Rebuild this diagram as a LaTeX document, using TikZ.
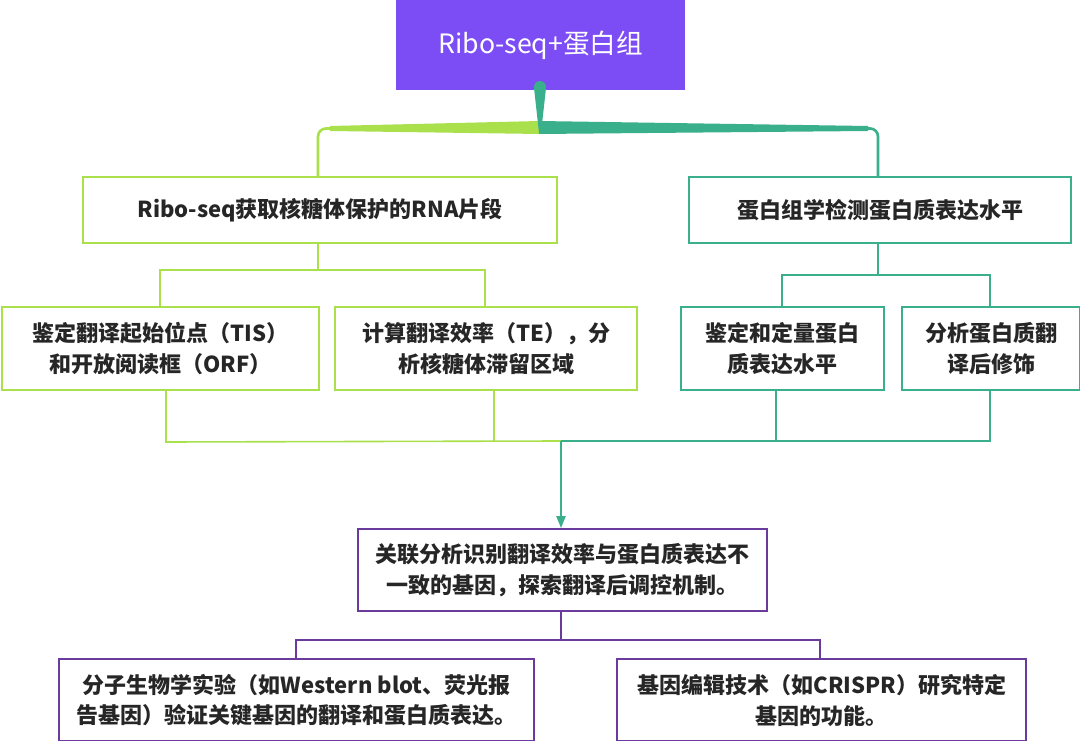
\documentclass[tikz,border=0pt]{standalone}
\usepackage{fontspec}
\setmainfont{Noto Sans CJK SC}
\usetikzlibrary{arrows.meta}
\definecolor{top}{HTML}{7C4DF5}
\definecolor{lg}{HTML}{A9E04B}
\definecolor{tl}{HTML}{3AAF8C}
\definecolor{pp}{HTML}{6A3A9C}
\tikzset{
 box/.style={draw=#1,line width=1.8pt,fill=white,font=\fontsize{16.5}{23}\selectfont\bfseries,text=black!85,align=center,inner sep=0pt},
 ln/.style={draw=#1,line width=1.2pt}
}
\begin{document}
\begin{tikzpicture}[x=0.75pt,y=-0.75pt]
\useasboundingbox (0,0) rectangle (1080,741);
\node[fill=top,minimum width=289*0.75pt,minimum height=90*0.75pt,text=white,font=\fontsize{20}{24}\selectfont,anchor=north west,inner sep=0pt] (t) at (396,0) {Ribo-seq+蛋白组};
% connectors
\fill[lg] (540,121) -- (330,126) -- (330,131) -- (540,134) -- cycle;
\draw[lg,line width=2pt,rounded corners=6pt] (332,128.5) -- (318,128.5) -- (318,176);
\fill[tl] (539,121) -- (868,126) -- (868,131) -- (539,134) -- cycle;
\draw[tl,line width=2pt,rounded corners=6pt] (866,128.5) -- (878,128.5) -- (878,176);
\fill[tl] (534,88) -- (546,88) -- (541,133) -- (539,133) -- cycle;
\fill[tl] (540,87) circle (6);
\node[box=lg,minimum width=474*0.75pt,minimum height=66*0.75pt,anchor=north west] (l1) at (82,176) {Ribo-seq获取核糖体保护的RNA片段};
\node[box=tl,minimum width=382*0.75pt,minimum height=66*0.75pt,anchor=north west] (r1) at (688,176) {蛋白组学检测蛋白质表达水平};
\node[box=lg,minimum width=317*0.75pt,minimum height=83*0.75pt,anchor=north west] (l2a) at (1,306) {鉴定翻译起始位点（TIS）\\和开放阅读框（ORF）};
\node[box=lg,minimum width=302*0.75pt,minimum height=83*0.75pt,anchor=north west] (l2b) at (334,306) {计算翻译效率（TE），分\\析核糖体滞留区域};
\node[box=tl,minimum width=203*0.75pt,minimum height=83*0.75pt,anchor=north west] (r2a) at (680,306) {鉴定和定量蛋白\\质表达水平};
\node[box=tl,minimum width=178*0.75pt,minimum height=83*0.75pt,anchor=north west] (r2b) at (901,306) {分析蛋白质翻\\译后修饰};
\node[box=pp,minimum width=409*0.75pt,minimum height=82*0.75pt,anchor=north west] (m) at (357,528) {关联分析识别翻译效率与蛋白质表达不\\一致的基因，探索翻译后调控机制。};
\node[box=pp,minimum width=475*0.75pt,minimum height=82*0.75pt,anchor=north west] (b1) at (58,658) {分子生物学实验（如Western blot、荧光报\\告基因）验证关键基因的翻译和蛋白质表达。};
\node[box=pp,minimum width=409*0.75pt,minimum height=82*0.75pt,anchor=north west] (b2) at (616,658) {基因编辑技术（如CRISPR）研究特定\\基因的功能。};
% tree lines
\coordinate (j1) at (318,270);
\draw[ln=lg] (l1.south -| j1) -- (j1);
\draw[ln=lg] (160,306) -- (160,270) -- (485,270) -- (485,306);
\coordinate (j2) at (878,275);
\draw[ln=tl] (r1.south -| j2) -- (j2);
\draw[ln=tl] (782,306) -- (782,275) -- (990,275) -- (990,306);
\coordinate (jm) at (561,441);
\draw[ln=lg] (166,389) -- (166,442) -- (jm);
\draw[ln=lg] (494,389) -- (494,442);
\draw[ln=tl] (990,389) -- (990,441) -- (jm);
\draw[ln=tl] (776,389) -- (776,441);
\draw[ln=tl,-{Triangle[length=9pt,width=7pt]}] (jm) -- (m.north -| jm);
\draw[ln=pp] (m.south -| jm) -- (561,640);
\draw[ln=pp] (296,658) -- (296,640) -- (820,640) -- (820,658);
\end{tikzpicture}
\end{document}
